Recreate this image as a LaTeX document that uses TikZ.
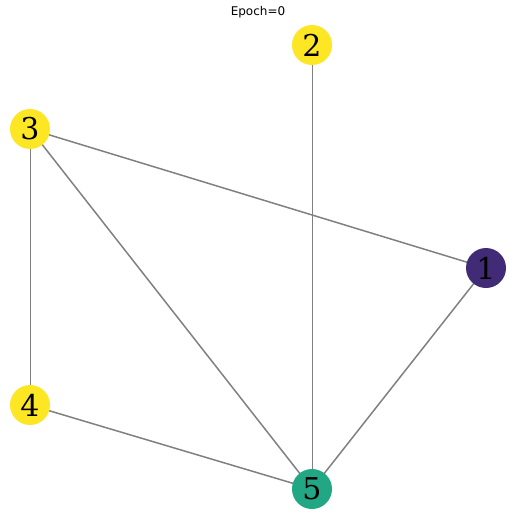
\documentclass[tikz,border=0pt]{standalone}
\usepackage{fontspec}
\setmainfont{DejaVu Serif}
\newfontfamily\titlefont{DejaVu Sans}
\usetikzlibrary{backgrounds}
\definecolor{vyellow}{HTML}{FDE725}
\definecolor{vpurple}{HTML}{412B76}
\definecolor{vgreen}{HTML}{22A784}
\definecolor{edgegray}{HTML}{808080}
\begin{document}
\begin{tikzpicture}[x=1pt,y=-1pt,
  vtx/.style={circle,minimum size=40pt,inner sep=0pt,font=\fontsize{30}{30}\selectfont},
  thick edge/.style={draw=edgegray,line width=1.5pt},
  thin edge/.style={draw=edgegray,line width=0.9pt}]
\useasboundingbox (0,0) rectangle (516,519);
\node[font=\titlefont\fontsize{12}{14}\selectfont] (title) at (258,12) {Epoch=0};
\node[vtx,fill=vyellow] (n2) at (312,45) {2};
\node[vtx,fill=vyellow] (n3) at (30,129) {3};
\node[vtx,fill=vpurple] (n1) at (486,268) {1};
\node[vtx,fill=vyellow] (n4) at (30,405) {4};
\node[vtx,fill=vgreen] (n5) at (312,489) {5};
\begin{scope}[on background layer]
\draw[thick edge] (n3.center) -- (n1.center);
\draw[thick edge] (n3.center) -- (n5.center);
\draw[thick edge] (n4.center) -- (n5.center);
\draw[thick edge] (n1.center) -- (n5.center);
\draw[thin edge] (n2.center) -- (n5.center);
\draw[thin edge] (n3.center) -- (n4.center);
\end{scope}
\end{tikzpicture}
\end{document}
